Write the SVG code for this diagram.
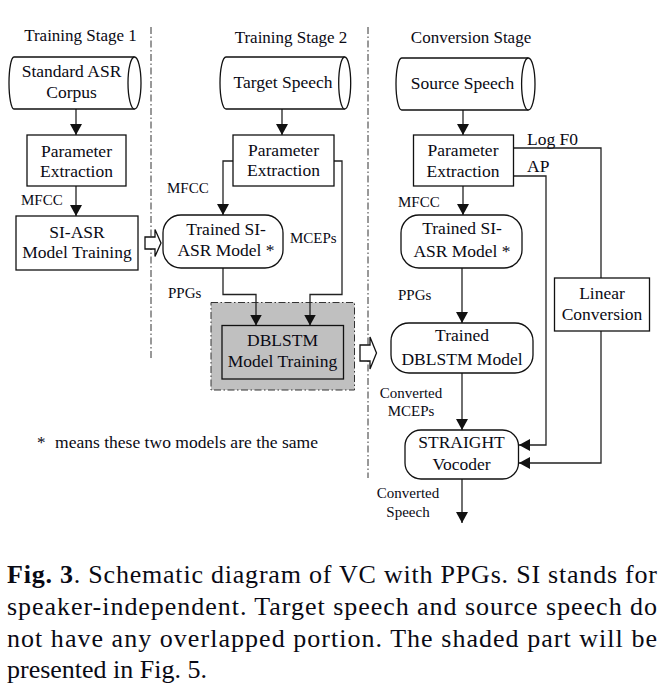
<svg xmlns="http://www.w3.org/2000/svg" width="666" height="693" viewBox="0 0 666 693">
<defs>
<marker id="ah" markerWidth="11" markerHeight="12" refX="11" refY="6" orient="auto" markerUnits="userSpaceOnUse"><path d="M0,0 L11,6 L0,12 z" fill="#111"/></marker>
<style>
text{font-family:"Liberation Serif","Times New Roman",serif;fill:#0a0a14}
.t{font-size:17.5px;text-anchor:middle}
.h{font-size:17px;text-anchor:middle}
.l{font-size:15px}
.lc{font-size:15px;text-anchor:middle}
.b{fill:#fff;stroke:#111;stroke-width:1.3}
.c{fill:none;stroke:#222;stroke-width:1.3}
.div{fill:none;stroke:#333;stroke-width:1;stroke-dasharray:7 2.5 1.5 2.5}
.cap{font-size:26px}
</style>
</defs>
<rect width="666" height="693" fill="#fff"/>

<!-- dividers -->
<line class="div" x1="151" y1="27" x2="151" y2="358"/>
<line class="div" x1="368" y1="27" x2="368" y2="478"/>

<!-- titles -->
<text class="h" x="80.5" y="41">Training Stage 1</text>
<text class="h" x="291" y="43">Training Stage 2</text>
<text class="h" x="471" y="43">Conversion Stage</text>

<!-- shaded part -->
<rect x="211" y="302.5" width="143.5" height="87.5" fill="#c0c0c0" stroke="#333" stroke-width="1" stroke-dasharray="7 2.5 1.5 2.5"/>

<!-- connectors -->
<g id="connectors">
<path class="c" marker-end="url(#ah)" d="M76,109 V135"/>
<path class="c" marker-end="url(#ah)" d="M76,186 V216"/>
<path class="c" marker-end="url(#ah)" d="M282,109 V135"/>
<path class="c" marker-end="url(#ah)" d="M233,161 H223 V215"/>
<path class="c" marker-end="url(#ah)" d="M334,161 H342 V294.5 H310 V325.5"/>
<path class="c" marker-end="url(#ah)" d="M223,268 V294.5 H256 V325.5"/>
<path class="c" marker-end="url(#ah)" d="M463,110 V135"/>
<path class="c" marker-end="url(#ah)" d="M463,186 V215"/>
<path class="c" marker-end="url(#ah)" d="M462,268 V323"/>
<path class="c" marker-end="url(#ah)" d="M462,373 V430"/>
<path class="c" marker-end="url(#ah)" d="M462,479 V523"/>
<path class="c" d="M513,148 H601 V278"/>
<path class="c" marker-end="url(#ah)" d="M513,176 H546 V445 H519"/>
<path class="c" marker-end="url(#ah)" d="M601,331 V463 H519"/>
<path class="b" d="M145,237 H155 V229.5 L161,243 L155,256.5 V249 H145 Z"/>
<path class="b" d="M360,345 H370 V337 L376.5,353 L370,369 V361 H360 Z"/>
</g>

<!-- labels -->
<text class="l" x="21" y="205">MFCC</text>
<text class="l" x="167" y="193">MFCC</text>
<text class="l" x="290" y="243">MCEPs</text>
<text class="l" x="168" y="298">PPGs</text>
<text class="l" x="398" y="207">MFCC</text>
<text x="527" y="145" style="font-size:17.5px">Log F0</text>
<text x="527" y="172" style="font-size:17.5px">AP</text>
<text class="l" x="398" y="300">PPGs</text>
<text class="lc" x="411" y="398">Converted</text>
<text class="lc" x="411" y="416">MCEPs</text>
<text class="lc" x="408" y="498">Converted</text>
<text class="lc" x="408" y="517">Speech</text>

<!-- Stage 1 -->
<g id="corpus">
<path class="b" d="M134.5,57 H14 A5,26 0 0 0 14,109 H134.5"/>
<ellipse class="b" cx="134.5" cy="83" rx="6.5" ry="26"/>
<text class="t" x="71.5" y="77">Standard ASR</text>
<text class="t" x="71.5" y="98">Corpus</text>
</g>
<g id="param1">
<rect class="b" x="27" y="135" width="99" height="51"/>
<text class="t" x="76.5" y="156.5">Parameter</text>
<text class="t" x="76.5" y="176.5">Extraction</text>
</g>
<g id="siasr-train">
<rect class="b" x="16" y="216" width="122" height="54"/>
<text class="t" x="77" y="238">SI-ASR</text>
<text class="t" x="77" y="258">Model Training</text>
</g>

<!-- Stage 2 -->
<g id="target">
<path class="b" d="M344.7,57 H226 A6,26 0 0 0 226,109 H344.7"/>
<ellipse class="b" cx="344.7" cy="83" rx="6" ry="26"/>
<text class="t" x="283" y="88">Target Speech</text>
</g>
<g id="param2">
<rect class="b" x="233" y="135" width="101" height="51"/>
<text class="t" x="283.5" y="156">Parameter</text>
<text class="t" x="283.5" y="176">Extraction</text>
</g>
<g id="siasr2">
<rect class="b" x="163" y="215" width="120" height="53" rx="18" ry="18"/>
<text class="t" x="226" y="235">Trained SI-</text>
<text class="t" x="226" y="256">ASR Model *</text>
</g>
<g id="dblstm-train">
<rect x="222" y="325.5" width="121.5" height="53.5" fill="#c0c0c0" stroke="#111" stroke-width="1.3"/>
<text class="t" x="282.5" y="346">DBLSTM</text>
<text class="t" x="282.5" y="366.5">Model Training</text>
</g>

<!-- Conversion -->
<g id="source">
<path class="b" d="M528.3,58 H401.7 A5.7,26 0 0 0 401.7,110 H528.3"/>
<ellipse class="b" cx="528.3" cy="84" rx="6.7" ry="26"/>
<text class="t" x="462.5" y="89">Source Speech</text>
</g>
<g id="param3">
<rect class="b" x="413.5" y="135" width="100" height="51"/>
<text class="t" x="463" y="156">Parameter</text>
<text class="t" x="463" y="176.5">Extraction</text>
</g>
<g id="siasr3">
<rect class="b" x="401" y="215" width="121" height="53" rx="18" ry="18"/>
<text class="t" x="462" y="234">Trained SI-</text>
<text class="t" x="462" y="257">ASR Model *</text>
</g>
<g id="linear">
<rect class="b" x="554.5" y="278" width="95" height="53"/>
<text class="t" x="602" y="299">Linear</text>
<text class="t" x="602" y="320">Conversion</text>
</g>
<g id="dblstm">
<rect class="b" x="391" y="323" width="142" height="50" rx="18" ry="18"/>
<text class="t" x="462" y="341">Trained</text>
<text class="t" x="462" y="365">DBLSTM Model</text>
</g>
<g id="straight">
<rect class="b" x="405" y="430" width="113.5" height="49" rx="16" ry="16"/>
<text class="t" x="461.5" y="448">STRAIGHT</text>
<text class="t" x="461.5" y="470">Vocoder</text>
</g>

<!-- note -->
<text x="37" y="448" style="font-size:17px">*</text>
<text x="55" y="448" style="font-size:17px" textLength="263" lengthAdjust="spacingAndGlyphs">means these two models are the same</text>

<!-- caption -->
<text class="cap" x="7" y="583" textLength="650" lengthAdjust="spacing"><tspan font-weight="bold">Fig. 3</tspan>. Schematic diagram of VC with PPGs. SI stands for</text>
<text class="cap" x="7" y="615" textLength="650" lengthAdjust="spacing">speaker-independent. Target speech and source speech do</text>
<text class="cap" x="7" y="647" textLength="650" lengthAdjust="spacing">not have any overlapped portion. The shaded part will be</text>
<text class="cap" x="7" y="678">presented in Fig. 5.</text>
</svg>
